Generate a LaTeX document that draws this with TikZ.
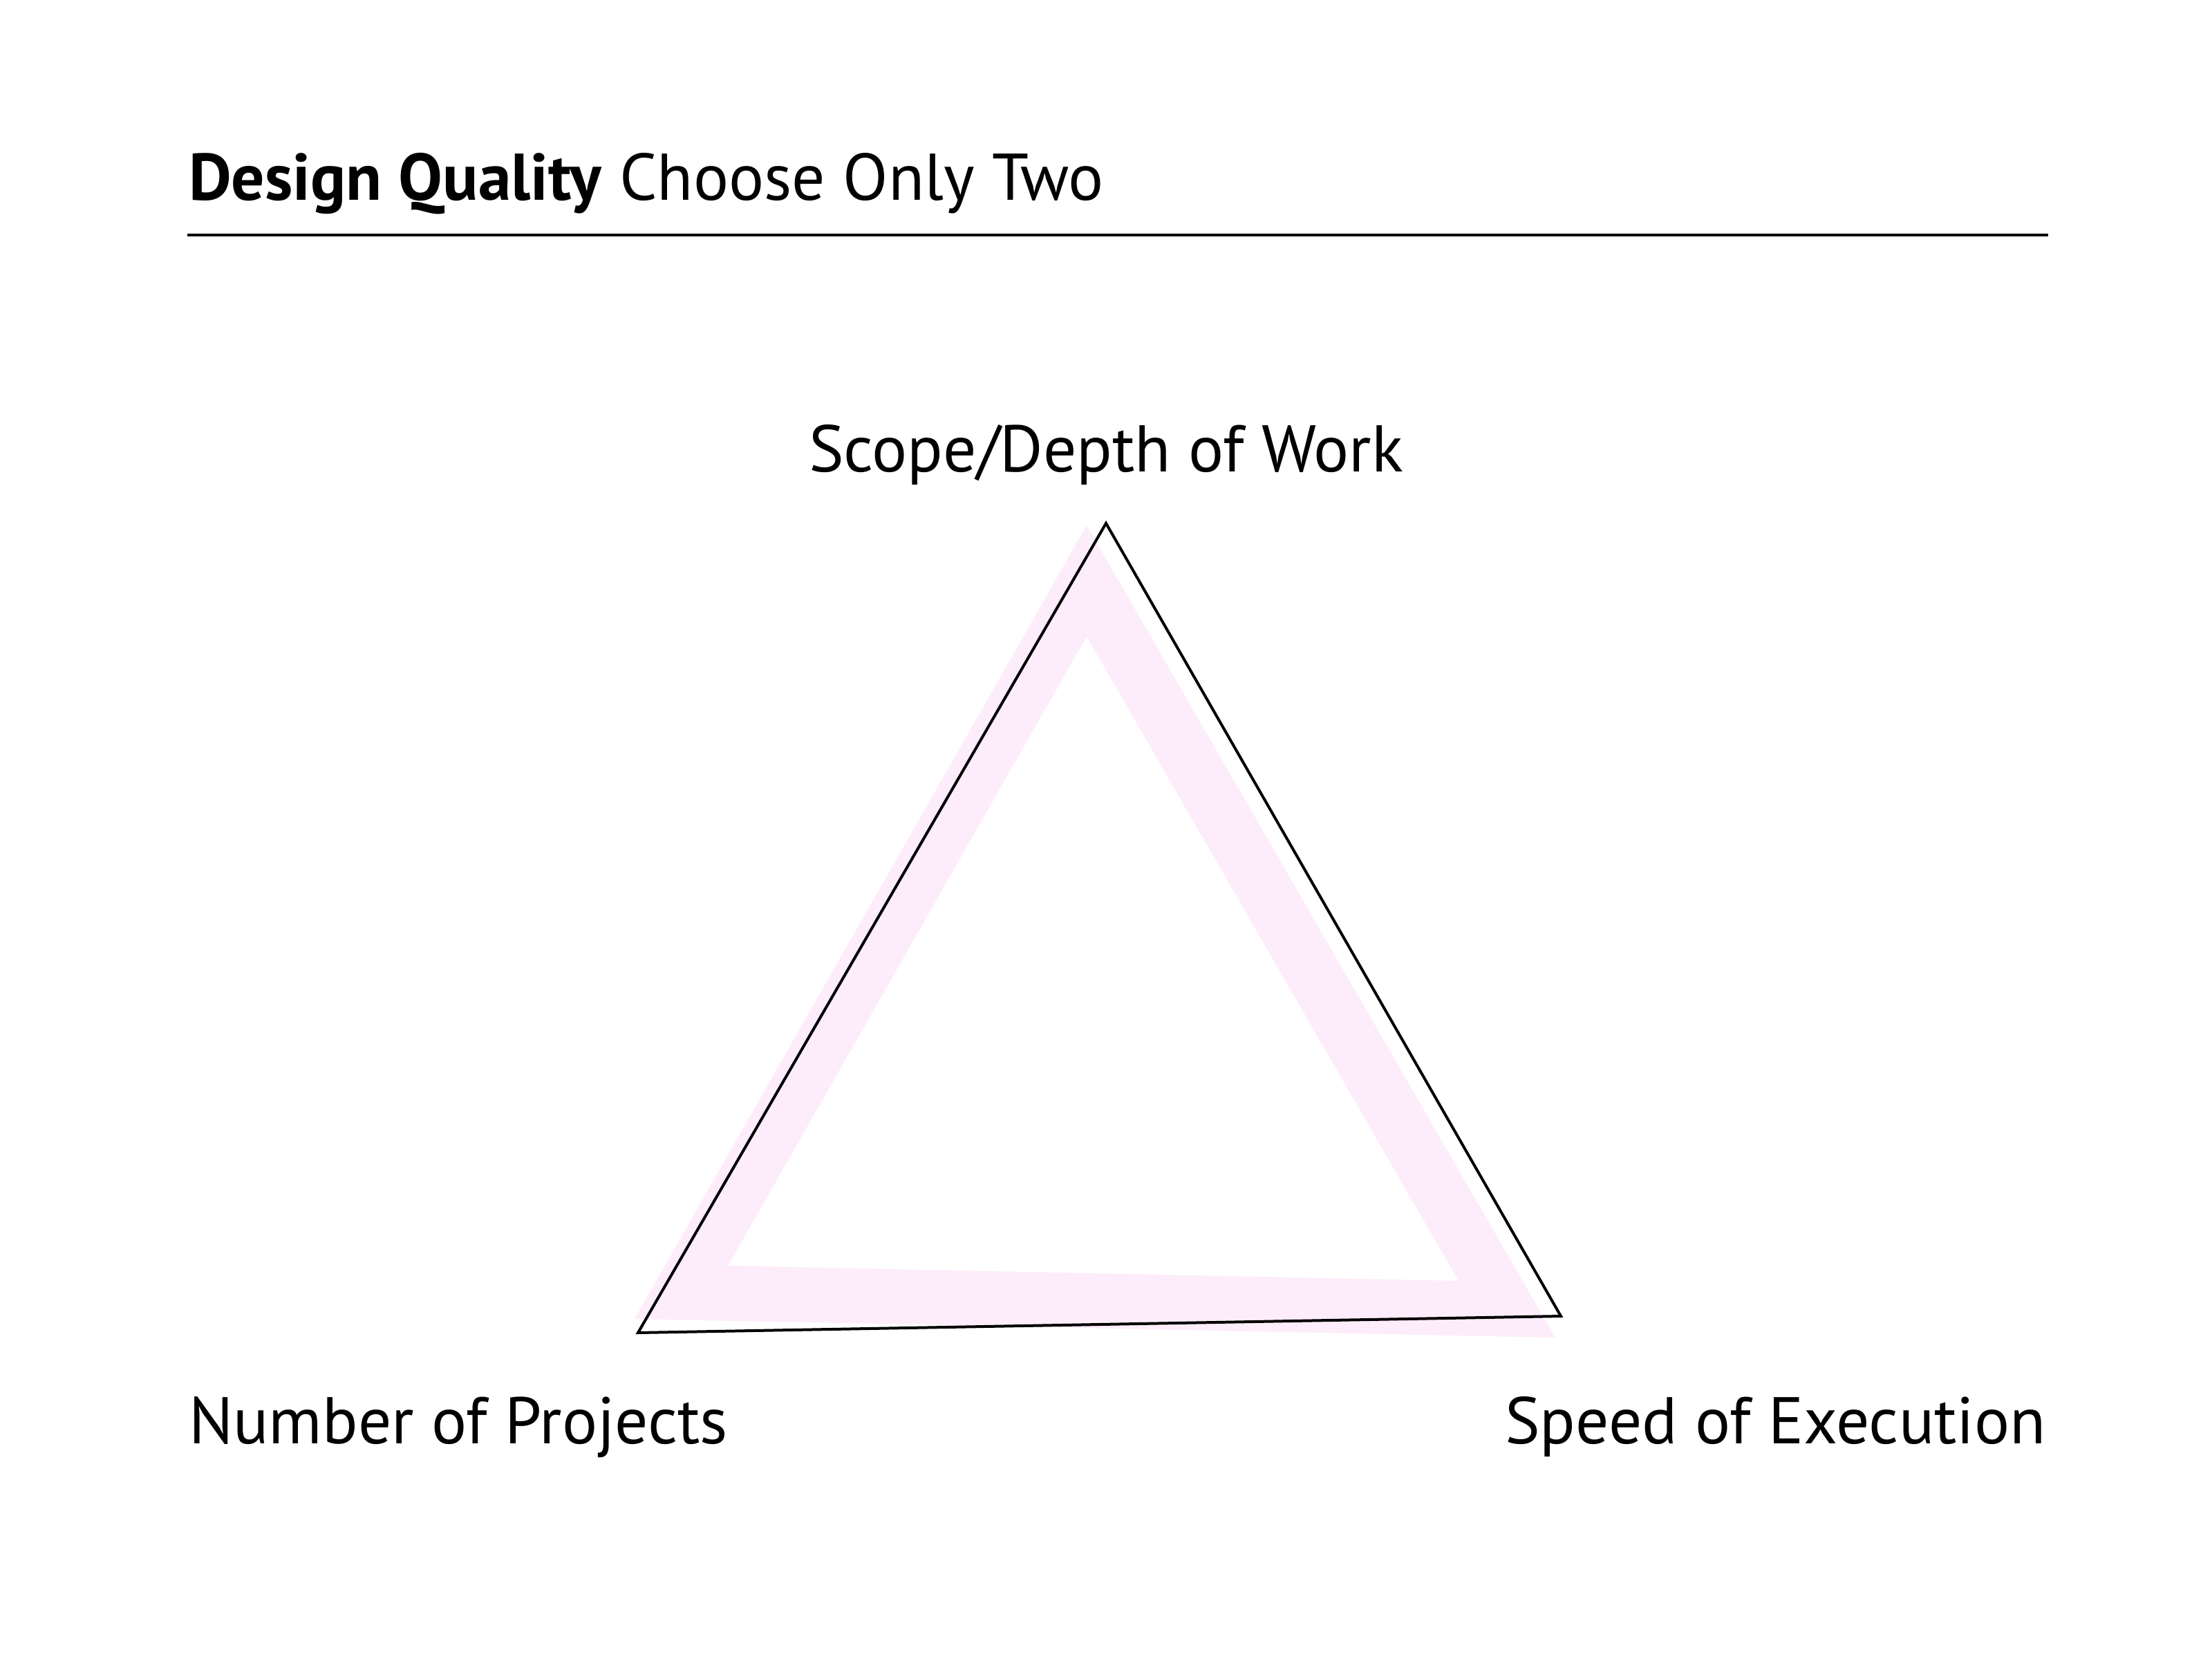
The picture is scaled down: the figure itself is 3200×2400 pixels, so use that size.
\documentclass[tikz,border=0pt]{standalone}
\usepackage{fontspec}
\setmainfont{PT Sans}
\definecolor{softpink}{RGB}{253,237,250}
\begin{document}
\begin{tikzpicture}[x=1pt,y=-1pt,
  lbl/.style={inner sep=0pt,font=\fontsize{95.5}{115}\selectfont},
  rule/.style={line width=4pt},
  outline/.style={line width=4pt,line join=miter}]
\useasboundingbox[fill=white] (0,0) rectangle (3200,2400);
% title
\node[lbl,anchor=base west] (title) at (273,290) {\textbf{Design Quality} Choose Only Two};
\coordinate (rl) at (271,340);
\coordinate (rr) at (2963,340);
\draw[rule] (rl) -- (rr);
% pink band
\fill[softpink,even odd rule] (1572,760) -- (918,1908) -- (2250,1935) -- cycle
  (1572,921) -- (1053,1831) -- (2110,1853) -- cycle;
% outline triangle
\coordinate (top) at (1600,757);
\coordinate (bl) at (923,1928);
\coordinate (br) at (2258,1904);
\draw[outline] (top) -- (bl) -- (br) -- cycle;
% labels
\node[lbl,anchor=base] (scope) at (1600,682) {Scope/Depth of Work};
\node[lbl,anchor=base west] (num) at (273,2088) {Number of Projects};
\node[lbl,anchor=base east] (speed) at (2960,2088) {Speed of Execution};
\end{tikzpicture}
\end{document}
